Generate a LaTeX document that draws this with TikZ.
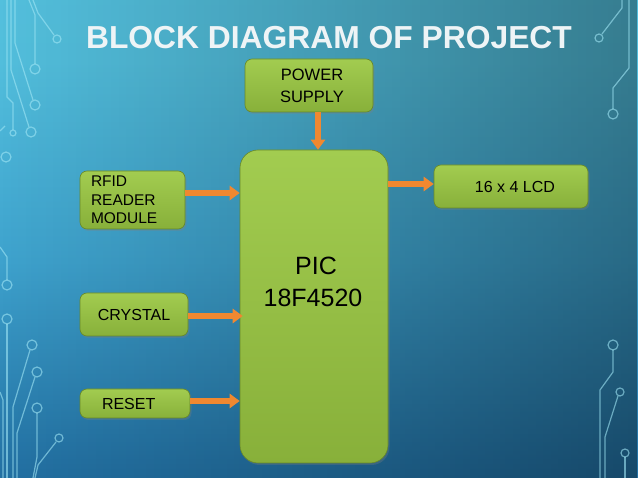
\documentclass[tikz,border=0pt]{standalone}
\usepackage{fontspec}
\setmainfont{Liberation Sans}
\usetikzlibrary{arrows.meta,shadows,fadings,calc}
\definecolor{bgA}{RGB}{18,68,118}
\definecolor{bgB}{RGB}{36,115,165}
\definecolor{bgC}{RGB}{62,162,205}
\definecolor{bgD}{RGB}{82,190,220}
\definecolor{bgE}{RGB}{88,198,224}
\definecolor{boxtop}{RGB}{162,204,80}
\definecolor{boxbot}{RGB}{136,176,58}
\definecolor{boxborder}{RGB}{104,136,40}
\definecolor{arrorange}{RGB}{240,136,48}
\definecolor{circline}{RGB}{160,230,245}
\definecolor{titlewhite}{RGB}{238,244,246}
\pgfdeclareverticalshading{bgv}{100bp}{color(0bp)=(bgA); color(26.8bp)=(bgB); color(47.7bp)=(bgC); color(68.6bp)=(bgD); color(100bp)=(bgE)}
\begin{document}
\begin{tikzpicture}[x=1pt,y=-1pt,
  box/.style={draw=boxborder, line width=0.6pt, rounded corners=7pt,
    top color=boxtop, bottom color=boxbot,
    drop shadow={opacity=0.3, shadow xshift=1.5pt, shadow yshift=-2pt},
    inner sep=0pt, text=black, font=\fontsize{16}{19}\selectfont},
  arr/.style={draw=arrorange, line width=6pt, -{Triangle[length=10pt,width=14pt]}},
  circ/.style={draw=circline, line width=1.2pt, opacity=0.6},
  lbl/.style={inner sep=0pt, text=black}]
\useasboundingbox (0,0) rectangle (638,478);
\shade[shading=bgv] (0,0) rectangle (638,478);
\fill[black, opacity=0.35, path fading=west] (0,0) rectangle (638,478);
% circuit decorations
\begin{scope}[every path/.style={circ}]
\draw (33,0) -- (38,13) -- (54,35); \draw (57,39) circle (4pt);
\draw (29,0) -- (35,15) -- (35,64); \draw (35,69) circle (5pt);
\draw (15,0) -- (15,43) -- (33,100); \draw (35,105) circle (5pt);
\draw (11,0) -- (11,70) -- (29,127); \draw (31,132) circle (5pt);
\draw (7,0) -- (7,97) -- (13,103) -- (13,130); \draw (13,133) circle (3pt);
\draw (0,131) -- (5,126); \draw (6,157) circle (5pt);
\draw (0,247) -- (7,257) -- (7,280); \draw (7,285) circle (5pt);
\draw (7,324) -- (7,478); \draw (7,319) circle (5pt);
\draw (30,350) -- (13,407) -- (13,478); \draw (32,345) circle (5pt);
\draw (35,377) -- (17,433) -- (17,478); \draw (37,372) circle (5pt);
\draw (37,413) -- (37,457) -- (33,478); \draw (37,408) circle (5pt);
\draw (56,442) -- (38,465) -- (35,478); \draw (59,438) circle (4pt);
\draw (0,392) -- (3,400) -- (3,478);
\draw (622,0) -- (622,8) -- (602,34); \draw (599,38) circle (4pt);
\draw (629,0) -- (629,68) -- (613,88) -- (613,109); \draw (613,114) circle (5pt);
\draw (613,350) -- (613,372) -- (600,390) -- (600,478); \draw (613,345) circle (5pt);
\draw (618,396) -- (605,437) -- (605,478); \draw (620,392) circle (4pt);
\draw (625,457) -- (625,478); \draw (625,453) circle (4pt);
\end{scope}
% title
\node[anchor=base, inner sep=0pt, text=titlewhite, font=\fontsize{31.8}{36}\selectfont\bfseries] (title) at (329,49) {BLOCK DIAGRAM OF PROJECT};
% boxes
\node[box, minimum width=128pt, minimum height=53pt, align=center, font=\fontsize{16.5}{22}\selectfont] (power) at (309,85.5) {\hspace*{6pt}POWER\\\hspace*{6pt}SUPPLY};
\node[box, rounded corners=18pt, minimum width=148pt, minimum height=313pt] (pic) at (314,306.5) {};
\node[lbl, align=center, font=\fontsize{25}{32}\selectfont] (pictext) at (313,282) {\hspace*{6pt}PIC\\18F4520};
\node[box, minimum width=105pt, minimum height=58pt, text width=83pt, align=left, font=\fontsize{15.5}{18.5}\selectfont] (rfid) at (132.5,200) {RFID\\READER\\MODULE};
\node[box, minimum width=108pt, minimum height=43pt] (crystal) at (134,314.5) {CRYSTAL};
\node[box, minimum width=110pt, minimum height=29pt, text width=66pt, align=left] (reset) at (135,403.5) {RESET};
\node[box, minimum width=154pt, minimum height=43pt] (lcd) at (511,186.5) {\hspace*{8pt}16 x 4 LCD};
% arrows
\draw[arr] ([xshift=9pt]power.south) -- ([xshift=9pt]power.south |- pic.north);
\draw[arr] ([yshift=7pt]rfid.east) -- ([yshift=7pt]rfid.east -| pic.west);
\draw[arr] ([yshift=-1.5pt]crystal.east) -- ([yshift=-1.5pt,xshift=3pt]crystal.east -| pic.west);
\draw[arr] ([yshift=2.5pt]reset.east) -- ([yshift=2.5pt]reset.east -| pic.west);
\draw[arr] ([yshift=2.5pt]lcd.west -| pic.east) -- ([yshift=2.5pt]lcd.west);
\end{tikzpicture}
\end{document}
